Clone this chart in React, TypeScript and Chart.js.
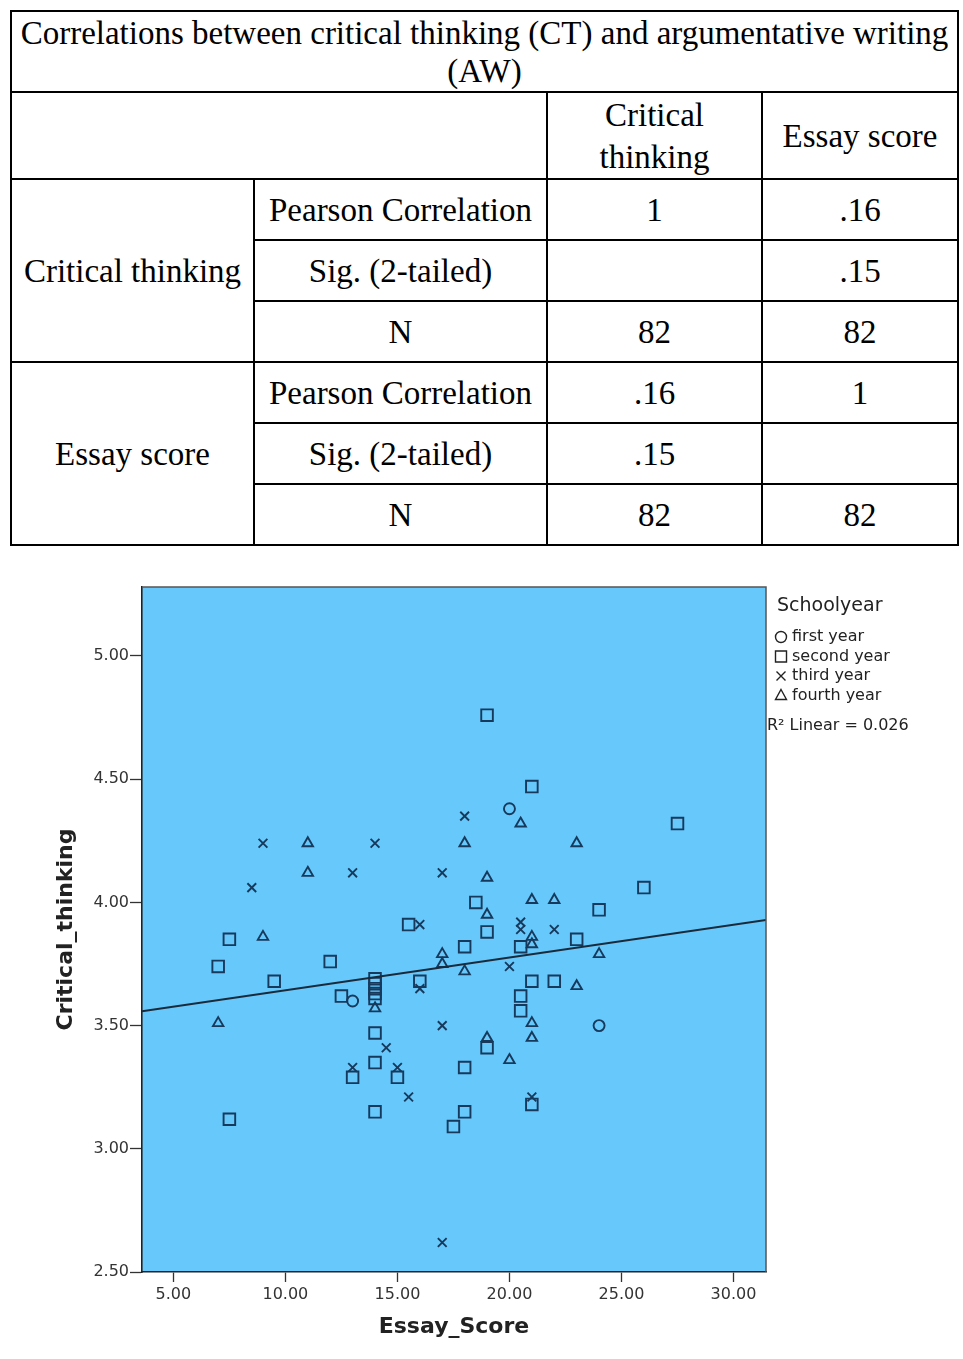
import React, { useEffect, useRef } from 'react';
import { Chart, registerables } from 'chart.js';

Chart.register(...registerables);

// ---------- Table data ----------
const TABLE_TITLE = 'Correlations between critical thinking (CT) and argumentative writing (AW)';
const COL_HEADERS = ['Critical\nthinking', 'Essay score'];
const ROW_GROUPS = ['Critical thinking', 'Essay score'];
const STAT_LABELS = ['Pearson Correlation', 'Sig. (2-tailed)', 'N'];
const CT_VALUES = [['1', '.16'], ['', '.15'], ['82', '82']];
const ES_VALUES = [['.16', '1'], ['.15', ''], ['82', '82']];

// ---------- Scatter data (Essay_Score, Critical_thinking) ----------
const X_FIRST = [20, 13, 24];
const Y_FIRST = [4.38, 3.60, 3.50];

const X_SECOND = [19, 21, 27.5, 26, 18.5, 24, 15.5, 19, 7.5, 23, 18, 20.5, 12, 7, 9.5, 16, 21, 22, 14, 14, 14, 14, 14, 12.5, 20.5, 20.5, 14, 19, 14, 18, 13, 15, 21, 7.5, 14, 18, 17.5];
const Y_SECOND = [4.76, 4.47, 4.32, 4.06, 4.00, 3.97, 3.91, 3.88, 3.85, 3.85, 3.82, 3.82, 3.76, 3.74, 3.68, 3.68, 3.68, 3.68, 3.69, 3.67, 3.65, 3.63, 3.61, 3.62, 3.62, 3.56, 3.47, 3.41, 3.35, 3.33, 3.29, 3.29, 3.18, 3.12, 3.15, 3.15, 3.09];

const X_THIRD = [18, 9, 14, 13, 17, 8.5, 16, 20.5, 20.5, 22, 20, 16, 17, 14.5, 13, 15, 15.5, 21, 17];
const Y_THIRD = [4.35, 4.24, 4.24, 4.12, 4.12, 4.06, 3.91, 3.92, 3.89, 3.89, 3.74, 3.65, 3.50, 3.41, 3.33, 3.33, 3.21, 3.21, 2.62];

const X_FOURTH = [20.5, 11, 18, 23, 11, 19, 21, 22, 19, 9, 21, 21, 24, 17, 17, 18, 23, 14, 7, 21, 21, 19, 20];
const Y_FOURTH = [4.32, 4.24, 4.24, 4.24, 4.12, 4.10, 4.01, 4.01, 3.95, 3.86, 3.86, 3.83, 3.79, 3.79, 3.75, 3.72, 3.66, 3.57, 3.51, 3.51, 3.45, 3.45, 3.36];

const FIT_INTERCEPT = 3.51;
const FIT_SLOPE = 0.0133;

const X_TICKS = [5, 10, 15, 20, 25, 30];
const Y_TICKS = [2.5, 3, 3.5, 4, 4.5, 5];
const X_MIN = 3.6;
const X_MAX = 31.45;
const Y_MIN = 2.5;
const Y_MAX = 5.28;

const X_TITLE = 'Essay_Score';
const Y_TITLE = 'Critical_thinking';
const LEGEND_TITLE = 'Schoolyear';
const GROUP_LABELS = ['first year', 'second year', 'third year', 'fourth year'];
const R2_TEXT = 'R² Linear = 0.026';

// ---------- Styles ----------
const PLOT_BG = '#66c8fb';
const MARK = '#17395c';
const FONT = 'DejaVu Sans';

const toPts = (xs: number[], ys: number[]) => xs.map((x, i) => ({ x, y: ys[i] }));

function drawLegendMarker(ctx: CanvasRenderingContext2D, kind: string, x: number, y: number) {
  ctx.save();
  ctx.strokeStyle = '#222';
  ctx.lineWidth = 1.4;
  ctx.beginPath();
  if (kind === 'circle') {
    ctx.arc(x, y, 5.5, 0, Math.PI * 2);
  } else if (kind === 'rect') {
    ctx.rect(x - 5.5, y - 5.5, 11, 11);
  } else if (kind === 'cross') {
    ctx.moveTo(x - 4.5, y - 4.5);
    ctx.lineTo(x + 4.5, y + 4.5);
    ctx.moveTo(x + 4.5, y - 4.5);
    ctx.lineTo(x - 4.5, y + 4.5);
  } else {
    ctx.moveTo(x, y - 6);
    ctx.lineTo(x + 5.5, y + 4);
    ctx.lineTo(x - 5.5, y + 4);
    ctx.closePath();
  }
  ctx.stroke();
  ctx.restore();
}

const spssPlugin = {
  id: 'spss',
  beforeDraw(chart: any) {
    const { ctx, chartArea: a } = chart;
    ctx.save();
    ctx.fillStyle = PLOT_BG;
    ctx.fillRect(a.left, a.top, a.right - a.left, a.bottom - a.top);
    ctx.restore();
  },
  afterDraw(chart: any) {
    const { ctx, chartArea: a } = chart;
    ctx.save();
    ctx.strokeStyle = '#555';
    ctx.lineWidth = 1.5;
    ctx.beginPath();
    ctx.moveTo(a.left, a.top);
    ctx.lineTo(a.right, a.top);
    ctx.lineTo(a.right, a.bottom);
    ctx.stroke();

    // legend
    const lx = a.right + 11;
    ctx.fillStyle = '#222';
    ctx.textBaseline = 'middle';
    ctx.textAlign = 'left';
    ctx.font = `19px "${FONT}"`;
    ctx.fillText(LEGEND_TITLE, lx, a.top + 19);
    const kinds = ['circle', 'rect', 'cross', 'triangle'];
    ctx.font = `16px "${FONT}"`;
    GROUP_LABELS.forEach((lab, i) => {
      const yy = a.top + 50 + i * 19.5;
      drawLegendMarker(ctx, kinds[i], lx + 4, yy);
      ctx.fillStyle = '#222';
      ctx.fillText(lab, lx + 15, yy);
    });
    ctx.fillText(R2_TEXT, a.right + 1, a.top + 139);
    ctx.restore();
  },
};

export default function App() {
  const ref = useRef<HTMLCanvasElement>(null);

  useEffect(() => {
    if (!ref.current) return;
    const pointDs = (label: string, xs: number[], ys: number[], style: string, r: number) => ({
      type: 'scatter' as const,
      label,
      data: toPts(xs, ys),
      pointStyle: style,
      pointRadius: r,
      pointHoverRadius: r,
      pointBorderColor: MARK,
      pointBackgroundColor: 'rgba(0,0,0,0)',
      pointBorderWidth: 1.9,
      showLine: false,
    });
    const chart = new Chart(ref.current, {
      type: 'scatter',
      data: {
        datasets: [
          {
            type: 'line',
            label: 'fit',
            data: [
              { x: X_MIN, y: FIT_INTERCEPT + FIT_SLOPE * X_MIN },
              { x: X_MAX, y: FIT_INTERCEPT + FIT_SLOPE * X_MAX },
            ],
            borderColor: '#1a2a3a',
            borderWidth: 2,
            pointRadius: 0,
            fill: false,
          } as any,
          pointDs(GROUP_LABELS[0], X_FIRST, Y_FIRST, 'circle', 5.5),
          pointDs(GROUP_LABELS[1], X_SECOND, Y_SECOND, 'rect', 8.2),
          pointDs(GROUP_LABELS[2], X_THIRD, Y_THIRD, 'crossRot', 6.2),
          pointDs(GROUP_LABELS[3], X_FOURTH, Y_FOURTH, 'triangle', 6),
        ],
      },
      options: {
        responsive: false,
        devicePixelRatio: 1,
        animation: false,
        events: [],
        layout: { padding: { top: 27, right: 197, left: 50, bottom: 0 } },
        plugins: { legend: { display: false }, tooltip: { enabled: false } },
        scales: {
          x: {
            type: 'linear',
            min: X_MIN,
            max: X_MAX,
            afterBuildTicks: (s: any) => { s.ticks = X_TICKS.map((v) => ({ value: v })); },
            afterFit: (s: any) => { s.height = 87; },
            grid: { drawOnChartArea: false, drawTicks: true, tickLength: 10, tickColor: '#333', tickWidth: 1.3 },
            border: { display: true, color: '#222', width: 1.6 },
            ticks: {
              padding: 3,
              color: '#333',
              font: { family: FONT, size: 16 },
              maxRotation: 0,
              callback: (v: any) => Number(v).toFixed(2),
            },
            title: {
              display: true,
              text: X_TITLE,
              color: '#222',
              font: { family: FONT, size: 22, weight: 'bold' },
              padding: { top: 0, bottom: 19 },
            },
          },
          y: {
            type: 'linear',
            min: Y_MIN,
            max: Y_MAX,
            afterBuildTicks: (s: any) => { s.ticks = Y_TICKS.map((v) => ({ value: v })); },
            afterFit: (s: any) => { s.width = 92; },
            grid: { drawOnChartArea: false, drawTicks: true, tickLength: 12, tickColor: '#333', tickWidth: 1.3 },
            border: { display: true, color: '#222', width: 1.6 },
            ticks: {
              padding: 1,
              color: '#333',
              font: { family: FONT, size: 16 },
              callback: (v: any) => Number(v).toFixed(2),
            },
            title: {
              display: true,
              text: Y_TITLE,
              color: '#222',
              font: { family: FONT, size: 22, weight: 'bold' },
              padding: { top: 3, bottom: 0 },
            },
          },
        },
      } as any,
      plugins: [spssPlugin],
    });
    return () => chart.destroy();
  }, []);

  const cell: React.CSSProperties = {
    border: '2px solid #000',
    textAlign: 'center',
    verticalAlign: 'middle',
    padding: 0,
    lineHeight: '42px',
  };

  const groupRows = (group: string, values: string[][]) =>
    STAT_LABELS.map((lab, i) => (
      <tr key={group + lab} style={{ height: 61 }}>
        {i === 0 && (
          <td style={cell} rowSpan={3}>{group}</td>
        )}
        <td style={cell}>{lab}</td>
        <td style={cell}>{values[i][0]}</td>
        <td style={cell}>{values[i][1]}</td>
      </tr>
    ));

  return (
    <div style={{ position: 'absolute', left: 0, top: 0, width: 963, height: 1359, background: '#fff', overflow: 'hidden' }}>
      <table
        style={{
          position: 'absolute',
          left: 10,
          top: 10,
          width: 947,
          borderCollapse: 'collapse',
          tableLayout: 'fixed',
          fontFamily: '"Liberation Serif", "Times New Roman", serif',
          fontSize: 33,
          color: '#000',
        }}
      >
        <colgroup>
          <col style={{ width: 243 }} />
          <col style={{ width: 293 }} />
          <col style={{ width: 215 }} />
          <col style={{ width: 196 }} />
        </colgroup>
        <tbody>
          <tr style={{ height: 81 }}>
            <td style={{ ...cell, lineHeight: '38px' }} colSpan={4}>{TABLE_TITLE}</td>
          </tr>
          <tr style={{ height: 87 }}>
            <td style={cell} colSpan={2}></td>
            {COL_HEADERS.map((h) => (
              <td key={h} style={cell}>
                {h.split('\n').map((p, i) => (
                  <React.Fragment key={i}>
                    {i > 0 && <br />}
                    {p}
                  </React.Fragment>
                ))}
              </td>
            ))}
          </tr>
          {groupRows(ROW_GROUPS[0], CT_VALUES)}
          {groupRows(ROW_GROUPS[1], ES_VALUES)}
        </tbody>
      </table>
      <canvas
        ref={ref}
        width={963}
        height={799}
        style={{ position: 'absolute', left: 0, top: 560, width: 963, height: 799 }}
      />
    </div>
  );
}
